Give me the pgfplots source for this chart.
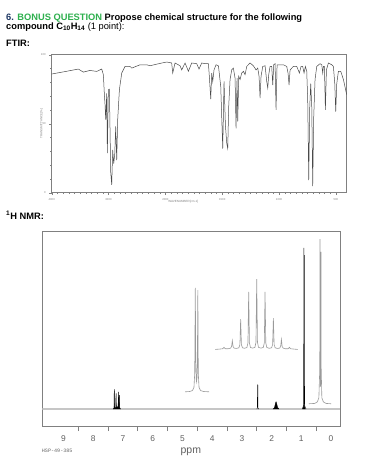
\documentclass[border=0pt]{standalone}
\usepackage{fontspec}
\setmainfont{Liberation Sans}
\setmonofont{Liberation Mono}
\usepackage{pgfplots}
\pgfplotsset{compat=1.18}
\definecolor{navy}{HTML}{1F3864}
\definecolor{qgreen}{HTML}{2EB04E}
\definecolor{irline}{HTML}{4A4A4A}
\definecolor{frame}{HTML}{808080}
\definecolor{inset}{HTML}{9A9A9A}
\begin{document}
\begin{tikzpicture}
\path[use as bounding box, fill=white] (0pt,0pt) rectangle (372pt,-466pt);
% ---- header text
\node[anchor=base west, inner sep=0] at (6pt,-20pt) {\fontsize{9.3}{11}\selectfont\bfseries\textcolor{navy}{6.} \textcolor{qgreen}{BONUS QUESTION} Propose chemical structure for the following};
\node[anchor=base west, inner sep=0] at (6pt,-29.3pt) {\fontsize{9.3}{11}\selectfont\textbf{compound C\textsubscript{10}H\textsubscript{14}} (1 point):};
\node[anchor=base west, inner sep=0] at (6pt,-46.7pt) {\fontsize{9.3}{11}\selectfont\bfseries FTIR:};
\node[anchor=base west, inner sep=0] at (6pt,-219.3pt) {\fontsize{9.3}{11}\selectfont\bfseries\textsuperscript{1}H NMR:};
% ---- FTIR
\begin{axis}[
  at={(51.7pt,-192.7pt)}, anchor=south west, scale only axis,
  width=295pt, height=138pt,
  xmin=0, xmax=5.19, ymin=0, ymax=100,
  axis line style={frame, line width=0.5pt},
  xtick={0,1,2,3,4,5}, xticklabels={4000,3000,2000,1500,1000,500},
  ytick={0,50,100}, yticklabels={0,50,100},
  minor x tick num=9, minor y tick num=4,
  tick align=outside, tick pos=left,
  major tick length=2.5pt, minor tick length=1.5pt,
  every tick/.style={frame, line width=0.3pt},
  tick label style={font=\fontsize{2.8}{3}\selectfont, text=frame},
  xlabel={WAVENUMBER[cm-1]}, ylabel={TRANSMITTANCE[\%]},
  label style={font=\fontsize{3}{3.5}\selectfont, text=frame},
  xlabel style={at={(axis description cs:0.446,-0.065)}, anchor=center},
  ylabel style={at={(axis description cs:-0.034,0.5)}, anchor=center},
]
\addplot[irline, line width=0.5pt] coordinates {
(0,86)(0.264,88)(0.469,89.6)(0.557,87.4)(0.674,88.6)(0.792,87.9)(0.880,89.6)(0.909,85.5)
(0.927,71)(0.938,64)(0.950,53)(0.968,72)(0.979,28.6)(0.997,74.6)(1.015,75)(1.038,15)
(1.056,5.6)(1.073,31)(1.091,21)(1.109,28)(1.126,48)(1.144,23.7)(1.161,53)(1.191,74.6)
(1.232,86.7)(1.290,91.5)(1.378,91.5)(1.408,90.3)(1.554,92.7)(1.672,92.7)(1.730,92)
(1.906,93.7)(2.023,94.7)(2.111,94)(2.129,86.7)(2.170,94)(2.258,92)(2.287,89)(2.346,94)
(2.405,88)(2.463,94)(2.551,93.5)(2.592,89.6)(2.639,94)(2.698,93.5)(2.757,93.5)(2.774,84)
(2.798,67.8)(2.815,86.7)(2.833,80.6)(2.856,89)(2.891,92.7)(2.933,92)(2.974,77)(3.009,32)
(3.032,80.6)(3.056,49)(3.079,36)(3.097,32)(3.114,62.5)(3.138,82)(3.167,89)(3.196,90.3)
(3.226,83)(3.243,46.7)(3.261,83)(3.273,51.6)(3.290,84.3)(3.314,82)(3.343,86.7)(3.372,88)
(3.402,85.5)(3.431,91.5)(3.490,94)(3.548,92)(3.595,89)(3.625,90.3)(3.648,84.3)(3.666,68.5)
(3.683,84.3)(3.713,91.5)(3.754,92)(3.783,80.6)(3.801,75.8)(3.818,85.5)(3.842,91.5)(3.871,91.5)
(3.889,78)(3.906,92.7)(3.930,93.5)(3.947,60)(3.965,92.7)(4.018,92.7)(4.076,92.7)(4.135,91.5)
(4.158,86.7)(4.176,78)(4.194,89)(4.252,91.5)(4.311,91.5)(4.358,86.7)(4.387,91.5)(4.416,91.5)
(4.440,86.7)(4.463,91.5)(4.487,88)(4.504,67.3)(4.522,9.2)(4.540,62.5)(4.557,79)(4.575,62.5)
(4.592,4.8)(4.610,55)(4.633,82)(4.663,91.5)(4.721,93.5)(4.751,92.7)(4.768,86.7)(4.780,91.5)
(4.798,91.5)(4.815,60)(4.833,89)(4.868,94)(4.927,92.7)(4.956,91.5)(4.980,79)(4.997,58.8)
(5.015,79)(5.044,88)(5.085,88)(5.132,82)(5.19,71)
};
\end{axis}
% ---- 1H NMR
\begin{axis}[
  at={(42.3pt,-426pt)}, anchor=south west, scale only axis,
  width=297.7pt, height=194.3pt,
  xmin=-0.3, xmax=9.71, x dir=reverse, ymin=-10.5, ymax=110,
  ytick=\empty, xtick={0,...,9}, minor x tick num=1,
  tick align=outside, tick pos=left,
  major tick length=0pt, minor tick length=5pt,
  axis line style={frame, line width=0.8pt},
  every tick/.style={frame, line width=0.6pt},
  xticklabel style={font=\fontsize{8.4}{9}\selectfont, text=gray!75!black, yshift=-6pt},
  /pgf/number format/assume math mode=true,
]
% baseline
\addplot[gray!45, line width=1.6pt] coordinates {(9.71,0)(-0.3,0)};
% main peaks
\addplot[black, line width=0.4pt, fill=black] coordinates {
(7.33,0)(7.30,0.5)(7.29,12.4)(7.28,1)(7.24,1)(7.23,9.7)(7.22,1.2)(7.16,1.5)(7.15,10.7)(7.14,2)(7.12,8.7)(7.11,1)(7.08,0)};
\addplot[black, line width=0.35pt] coordinates {
(2.50,0)(2.48,0.5)(2.472,15.3)(2.466,1)(2.46,15)(2.455,0.5)(2.43,0)};
\addplot[black, line width=0.4pt, fill=black] coordinates {
(1.95,0)(1.90,1)(1.87,3.5)(1.85,4.5)(1.83,3.5)(1.80,1)(1.75,0)};
\addplot[black, line width=0.35pt] coordinates {
(0.97,0)(0.94,1.5)(0.925,3)(0.915,100)(0.908,3)(0.897,95.5)(0.89,2.5)(0.87,1.2)(0.84,0)};
\addplot[black, line width=0.35pt, fill=black] coordinates {
(0.95,0)(0.93,1.5)(0.91,3)(0.89,1.5)(0.87,0)};
% inset: doublet
\addplot[inset, line width=0.6pt] coordinates {
(4.91,10.7)(4.75,10.9)(4.66,11.5)(4.61,13.5)(4.585,22)(4.565,75.2)(4.55,30)(4.535,19)(4.525,17)
(4.51,19)(4.495,30)(4.48,73.8)(4.465,22)(4.44,13.5)(4.39,11.5)(4.29,10.9)(4.10,10.7)};
% inset: nonet
\addplot[inset, line width=0.6pt] coordinates {
(3.90,37)(3.75,37.2)
(3.65,37.4)(3.62,37.8)(3.60,38.3)(3.58,37.8)(3.55,37.4)
(3.46,37.4)
(3.38,37.8)(3.345,38.8)(3.32,42.4)(3.295,38.8)(3.26,37.8)
(3.18,37.6)
(3.10,38)(3.065,40)(3.04,55.8)(3.015,40)(2.98,38)
(2.905,37.7)
(2.83,38.2)(2.795,41)(2.77,72.7)(2.745,41)(2.71,38.2)
(2.635,37.8)
(2.56,38.3)(2.525,41.5)(2.50,80.6)(2.475,41.5)(2.44,38.3)
(2.36,37.8)
(2.28,38.2)(2.245,41)(2.22,72.7)(2.195,41)(2.16,38.2)
(2.08,37.7)
(2.00,38)(1.965,40)(1.94,56.4)(1.915,40)(1.88,38)
(1.805,37.6)
(1.73,37.8)(1.695,38.8)(1.67,43.2)(1.645,38.8)(1.61,37.8)
(1.535,37.4)
(1.45,37.4)(1.42,37.8)(1.40,38.3)(1.38,37.8)(1.35,37.4)
(1.25,37.2)(1.12,37)};
% inset: methyl doublet
\addplot[inset, line width=0.6pt] coordinates {
(0.75,3.3)(0.55,3.5)(0.46,4.5)(0.41,7)(0.38,25)(0.372,105.4)(0.362,25)(0.355,14)(0.35,25)
(0.34,97.5)(0.332,25)(0.31,7)(0.26,4.5)(0.17,3.5)(0.0,3.3)};
\end{axis}
\node[anchor=base, inner sep=0, text=gray!75!black] at (190.8pt,-453.5pt) {\fontsize{10.5}{12}\selectfont ppm};
\node[anchor=base west, inner sep=0, text=gray!80!black] at (41.7pt,-452.7pt) {\fontsize{5.1}{6}\selectfont\ttfamily HSP-49-385};
\end{tikzpicture}
\end{document}
